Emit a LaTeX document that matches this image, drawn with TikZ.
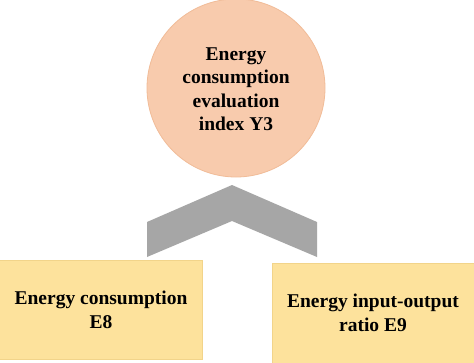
\documentclass[tikz,border=0pt]{standalone}
\usepackage{fontspec}
\setmainfont{Liberation Serif}
\definecolor{peach}{HTML}{F8CBAD}
\definecolor{peachline}{HTML}{F1BC98}
\definecolor{sand}{HTML}{FDE29C}
\definecolor{sandline}{HTML}{F2D48A}
\definecolor{chev}{HTML}{A6A6A6}
\tikzset{
  lbl/.style={font=\fontsize{19.5}{23.5}\selectfont\bfseries, align=center, text=black},
  boxshape/.style={draw=sandline, fill=sand, line width=0.8pt},
}
\begin{document}
\begin{tikzpicture}[x=1pt,y=-1pt]
\useasboundingbox (0,0) rectangle (474,362);
\fill[white] (0,0) rectangle (474,362);
% circle
\node[circle, draw=peachline, fill=peach, line width=0.8pt, minimum size=178pt, inner sep=0pt] (top) at (236,88) {};
\node[lbl] (toptext) at (236,89) {Energy\\consumption\\evaluation\\index Y3};
% chevron
\fill[chev] (147,222) -- (232,185) -- (317,222) -- (317,257) -- (232,221) -- (147,257) -- cycle;
% boxes
\draw[boxshape] (-1,260) rectangle (202,359);
\node[lbl] (e8) at (101,310) {Energy consumption\\E8};
\draw[boxshape] (272,263) rectangle (476,364);
\node[lbl] (e9) at (373,313) {Energy input-output\\ratio E9};
\end{tikzpicture}
\end{document}
